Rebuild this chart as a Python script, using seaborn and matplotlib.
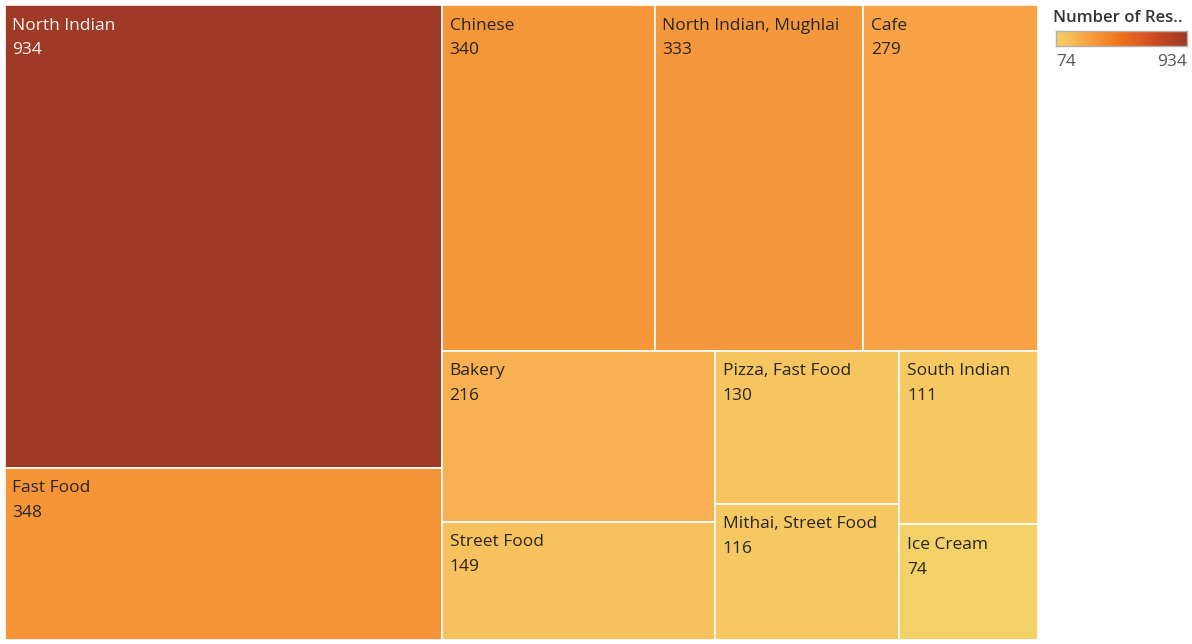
import matplotlib
matplotlib.use("Agg")
import matplotlib.pyplot as plt
from matplotlib.patches import Rectangle
import numpy as np
import seaborn as sns

# ---- data ----
cuisines = ["North Indian", "Fast Food", "Chinese", "North Indian, Mughlai", "Cafe",
            "Bakery", "Street Food", "Pizza, Fast Food", "Mithai, Street Food",
            "South Indian", "Ice Cream"]
counts = [934, 348, 340, 333, 279, 216, 149, 130, 116, 111, 74]
legend_title = "Number of Res.."
palette_stops = ["#f4d166", "#f8be5c", "#f8aa4c", "#f5983b", "#f3852a", "#ef701b",
                 "#e2621f", "#d65322", "#c54923", "#b14024", "#9e3a26"]

sns.set_theme(style="white")
plt.rcParams["font.family"] = ["Open Sans", "DejaVu Sans"]

FW, FH = 1192, 644
fig = plt.figure(figsize=(FW / 100, FH / 100), dpi=100)
fig.patch.set_facecolor("white")

# treemap axes (pixel box)
L, T, R, B = 5, 5, 1038, 640
ax = fig.add_axes([L / FW, 1 - B / FH, (R - L) / FW, (B - T) / FH])
W, H = R - L, B - T
ax.set_xlim(0, W)
ax.set_ylim(H, 0)
ax.axis("off")

cmap = sns.blend_palette(palette_stops, as_cmap=True)
vmin, vmax = min(counts), max(counts)


def worst_ratio(vals, side, scale):
    tot = sum(vals) * scale
    thick = tot / side
    r = 1.0
    for v in vals:
        ln = v * scale / thick
        r = max(r, thick / ln, ln / thick)
    return r


def layout(vals, x, y, w, h):
    scale = w * h / sum(vals)
    rects = []
    i = 0
    while i < len(vals):
        side = min(w, h)
        strip = [vals[i]]
        cur = worst_ratio(strip, side, scale)
        j = i + 1
        while j < len(vals):
            new = worst_ratio(strip + [vals[j]], side, scale)
            if new <= cur or new <= 2.75:
                strip.append(vals[j])
                cur = new
                j += 1
            else:
                break
        thick = sum(strip) * scale / side
        if w >= h:
            yy = y
            for v in strip:
                ln = v * scale / thick
                rects.append((x, yy, thick, ln))
                yy += ln
            x += thick
            w -= thick
        else:
            xx = x
            for v in strip:
                ln = v * scale / thick
                rects.append((xx, y, ln, thick))
                xx += ln
            y += thick
            h -= thick
        i = j
    return rects


rects = layout(counts, 0, 0, W, H)
for name, val, (x, y, w, h) in zip(cuisines, counts, rects):
    col = cmap((val - vmin) / (vmax - vmin))
    ax.add_patch(Rectangle((x, y), w, h, facecolor=col, edgecolor="white", lw=1.2))
    tc = "#f2f2f2" if val > 600 else "#262626"
    ax.text(x + 7.5, y + 12.5, name, ha="left", va="top", fontsize=12.5, color=tc)
    ax.text(x + 7.5, y + 37.5, str(val), ha="left", va="top", fontsize=12.5, color=tc)

# legend
fig.text(1053 / FW, 1 - 10 / FH, legend_title, ha="left", va="top", fontsize=12,
         fontweight="semibold", color="#333333")
cax = fig.add_axes([1056 / FW, 1 - 46 / FH, 131 / FW, 15 / FH])
cax.imshow(np.linspace(0, 1, 256)[None, :], aspect="auto", cmap=cmap, extent=(0, 1, 0, 1))
cax.set_xticks([])
cax.set_yticks([])
for s in cax.spines.values():
    s.set_color("#b0b0b0")
    s.set_linewidth(1)
fig.text(1056 / FW, 1 - 54 / FH, str(vmin), ha="left", va="top", fontsize=12.5, color="#555555")
fig.text(1187 / FW, 1 - 54 / FH, str(vmax), ha="right", va="top", fontsize=12.5, color="#555555")

fig.savefig("out.png", dpi=100)
